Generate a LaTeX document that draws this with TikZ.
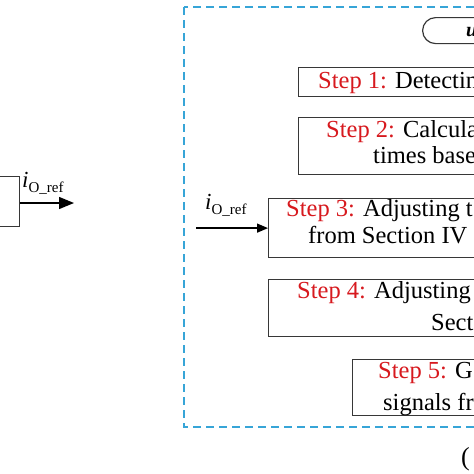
\documentclass[tikz,border=0pt]{standalone}
\usepackage{fontspec}
\setmainfont{Liberation Serif}
\usetikzlibrary{arrows.meta}
\definecolor{stepred}{RGB}{215,25,30}
\definecolor{dashblue}{RGB}{55,165,215}
\definecolor{boxgray}{RGB}{55,55,55}
\newcommand{\stp}[1]{\textcolor{stepred}{Step #1:}}
\newcommand{\iref}{\textit{i}\raisebox{-5pt}{\fontsize{15}{17}\selectfont O\_ref}}
\begin{document}
\begin{tikzpicture}[x=1pt,y=-1pt,
  stepbox/.style={draw=boxgray,line width=1.2pt,rectangle,anchor=north west,inner sep=0pt},
  txt/.style={anchor=base west,inner sep=0pt,font=\fontsize{24.5}{28}\selectfont},
  lbl/.style={anchor=base west,inner sep=0pt,font=\fontsize{23}{26}\selectfont},
  arr/.style={line width=1.3pt,-{Triangle[length=15pt,width=12pt]}}]
\useasboundingbox (0,0) rectangle (474,474);
\clip (0,0) rectangle (474,474);

% outer dashed frame
\draw[dashblue,line width=1.1pt,dash pattern=on 8pt off 5pt] (184,7) rectangle (520,427);

% left block and its output
\node[stepbox,minimum width=50pt,minimum height=50pt] (ctrl) at (-31,176) {};
\coordinate (out) at (74,203);
\draw[arr] (ctrl.east |- out) -- (out);
\node[lbl] at (22,187) {\iref};

% title
\node[stepbox,rounded corners=13pt,minimum width=100pt,minimum height=26pt] (title) at (422,17) {};
\node[lbl,font=\fontsize{20}{22}\selectfont] at (466,36) {\textbf{\textit{u}}};

% steps
\node[stepbox,minimum width=220pt,minimum height=29pt] (s1) at (298,67) {};
\node[txt] at (318,88) {\stp{1} Detectin};

\node[stepbox,minimum width=220pt,minimum height=57pt] (s2) at (298,117) {};
\node[txt] at (326,137) {\stp{2} Calcula};
\node[txt] at (373,163) {times base};

\node[stepbox,minimum width=250pt,minimum height=59pt] (s3) at (268,198) {};
\node[txt] at (286,216) {\stp{3} Adjusting t};
\node[txt] at (308,243) {from Section IV};

\node[stepbox,minimum width=250pt,minimum height=57pt] (s4) at (268,279) {};
\node[txt] at (297,298) {\stp{4} Adjusting};
\node[txt] at (431,330) {Sect};

\node[stepbox,minimum width=170pt,minimum height=56pt] (s5) at (352,359) {};
\node[txt] at (378,378) {\stp{5} G};
\node[txt] at (383,410) {signals fr};

% reference input
\coordinate (in) at (196,0);
\draw[arr,-{Triangle[length=11pt,width=9pt]}] (in |- s3.west) -- (s3.west);
\node[lbl] at (205,209) {\iref};

\node[anchor=base west,inner sep=0pt,font=\fontsize{26}{28}\selectfont] at (461,465) {(};
\end{tikzpicture}
\end{document}
